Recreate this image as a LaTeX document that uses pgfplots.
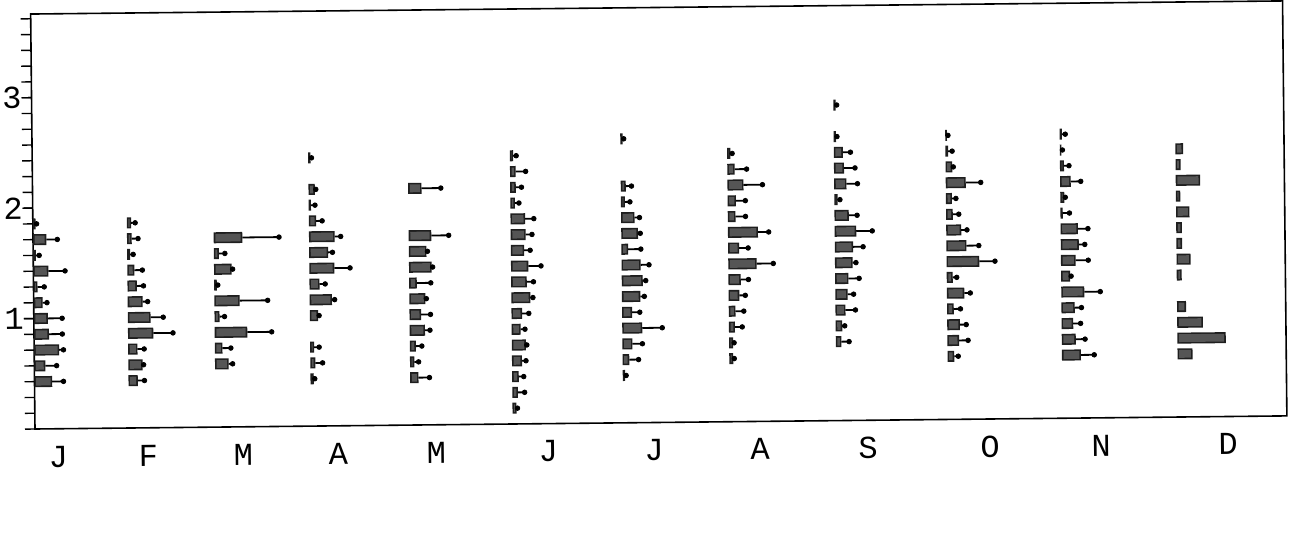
\documentclass[border=0pt]{standalone}
\usepackage{pgfplots}
\usepackage{pgfplotstable}
\pgfplotsset{compat=1.18}
\usepackage{fontspec}
\newfontfamily\lmono{Liberation Mono}
\definecolor{barEdge}{HTML}{1E1E1E}
\definecolor{barFill}{HTML}{555555}

% k = size class (1/7 of a unit), L = bar length (px), e = whisker length (px)
\pgfplotstableread{
k L e
13 2.7 1
12 13.3 11
11 2.7 3.3
10 15 16.7
9 4 6.7
8 9 4.3
7 14 14.3
6 15 13.3
5 25 4.3
4 11 11.3
3 17.7 11.3
}\tJan
\pgfplotstableread{
k L e
13 4.3 4
12 4.7 6.3
11 3 3
10 7 8
9 9.3 6.7
8 15 5
7 22.7 12.7
6 25.3 19.7
5 9.3 6.7
4 14.3 1
3 9.3 6.7
}\tFeb
\pgfplotstableread{
k L e
12 28.6 36.7
11 5 6
10 17.6 1
9 2.6 1
8 25.3 28
7 5 5
6 32.6 24.4
5 7.6 8.4
4 13.6 4
}\tMar
\pgfplotstableread{
k L e
17 2.3 1
15 6.3 1
14 2.3 4
13 7.3 6
12 25.7 6
11 19 4.3
10 25 15.7
9 10 5.7
8 22.3 2.7
7 8.3 1
5 4 5
4 5 7.3
3 3.3 1
}\tApr
\pgfplotstableread{
k L e
15 13.3 19.3
12 22.6 17.4
11 17.6 1
10 22.6 1
9 7.6 14
8 16 1
7 11.6 9.4
6 15.3 5
5 6 6
4 4.3 4.3
3 8.3 11
}\tMay
\pgfplotstableread{
k L e
17 3.3 3
16 5.6 10
15 5.6 5.7
14 4.6 4
13 14.6 8.7
12 15 6.3
11 13.3 6
10 17.3 12.7
9 15.6 6.7
8 19 2.6
7 10.6 6.7
6 9 4.3
5 14 1
4 10 4
3 6.6 5
2 5.6 6.7
1 4 1
}\tJun
\pgfplotstableread{
k L e
18 2.4 1
15 5 5.7
14 4 5
13 13.4 5
12 16.7 2.3
11 6.7 12.7
10 19 8.4
9 21 3
8 18.4 4
7 10 7.7
6 20 20
5 10 10
4 6.7 9.3
3 2.4 1
}\tJul
\pgfplotstableread{
k L e
17 3.3 1.7
16 7.3 12
15 16 19
14 8.3 9.4
13 7.7 10
12 30 10.7
11 11 9
10 28.3 16.7
9 12.3 7.7
8 10.7 6
7 6.7 8.3
6 6 7.3
5 4 1
4 4 1
}\tAug
\pgfplotstableread{
k L e
20 2.3 1
18 2.3 1
17 9 7.6
16 10 11
15 12.3 11
14 3.3 2.3
13 14.3 8.3
12 21.6 16
11 18.3 10
10 17.6 3.4
9 13.3 10.7
8 12.3 6
7 10 10
6 6.6 2.5
5 5.6 7.7
}\tSep
\pgfplotstableread{
k L e
18 1.7 1
17 2.7 4
16 6.7 1
15 20 15
14 6 4
13 6.7 6
12 15 5.7
11 20 12.4
10 32.7 15.7
9 6 4
8 17.4 6
7 6.7 6.7
6 12.7 6.3
5 11.7 9
4 6.7 4
}\tOct
\pgfplotstableread{
k L e
18 2.3 3.3
17 1.6 1
16 4 5
15 10.6 10
14 4 1
13 2.3 6.7
12 17.3 10
11 18 6
10 14.6 12.7
9 9 1
8 23 16
7 13.3 6.7
6 11.6 7.4
5 14 9.3
4 19 13.3
}\tNov
\pgfplotstableread{
k L
17 7.7
16 5
15 24.4
14 4.4
13 13.4
12 5.7
11 5.7
10 14
9 5
7 9
6 25.7
5 48.4
4 15
}\tDec

\newcommand{\monthbars}[2]{%
  \addplot[draw=none, no markers, error bars/.cd, x dir=plus, x explicit,
    error mark=none, error bar style={solid, line width=5.5pt, line cap=butt, draw=barEdge}]
    table[x expr=#2, y=k, x error=L] {#1};
  \addplot[draw=none, no markers, error bars/.cd, x dir=plus, x explicit,
    error mark=none, error bar style={solid, line width=3.9pt, line cap=butt, draw=barFill}]
    table[x expr=#2+1.6, y=k, x error expr={max(\thisrow{L}-3.2,0)}] {#1};
}
\newcommand{\monthwhisk}[2]{%
  \addplot[draw=none, no markers, error bars/.cd, x dir=plus, x explicit,
    error mark=*, error mark options={mark size=1.15pt, fill=black, draw=black},
    error bar style={solid, line width=0.9pt, line cap=butt, draw=black}]
    table[x expr=#2+\thisrow{L}, y=k, x error=e] {#1};
}

\begin{document}
\begin{tikzpicture}
\begin{scope}[transform canvas={rotate=0.6}]
\begin{axis}[
  at={(0,0)}, anchor=south west,
  scale only axis, width=626pt, height=207.5pt,
  xmin=35, xmax=1287, ymin=0, ymax=26.3,
  axis line style={line width=0.8pt, black},
  xtick={58,148,243,338,436,548,654,760,868,990,1101,1228},
  xticklabels={J,F,M,A,M,J,J,A,S,O,N,D},
  major x tick style={draw=none},
  ytick={7,14,21},
  yticklabels={\mbox{\lmono 1},\mbox{\lmono 2},\mbox{\lmono 3}},
  minor ytick={0,1,...,26},
  ytick pos=left,
  tick align=outside,
  major tick length=5pt, minor tick length=5pt,
  every tick/.style={line width=0.7pt, black},
  every tick label/.append style={font=\lmono\fontsize{16}{16}\selectfont},
  yticklabel style={xshift=3.5pt},
  clip=false,
]
\monthbars{\tJan}{35}    \monthwhisk{\tJan}{35}
\monthbars{\tFeb}{129}   \monthwhisk{\tFeb}{129}
\monthbars{\tMar}{215.7} \monthwhisk{\tMar}{215.7}
\monthbars{\tApr}{311}   \monthwhisk{\tApr}{311}
\monthbars{\tMay}{410.7} \monthwhisk{\tMay}{410.7}
\monthbars{\tJun}{512.7} \monthwhisk{\tJun}{512.7}
\monthbars{\tJul}{623.3} \monthwhisk{\tJul}{623.3}
\monthbars{\tAug}{730}   \monthwhisk{\tAug}{730}
\monthbars{\tSep}{836.7} \monthwhisk{\tSep}{836.7}
\monthbars{\tOct}{948.3} \monthwhisk{\tOct}{948.3}
\monthbars{\tNov}{1062.7}\monthwhisk{\tNov}{1062.7}
\monthbars{\tDec}{1178.3}
\end{axis}
\end{scope}
\pgfresetboundingbox
\path (-17.5pt,-56pt) rectangle (632.5pt,214.5pt);
\end{tikzpicture}
\end{document}
